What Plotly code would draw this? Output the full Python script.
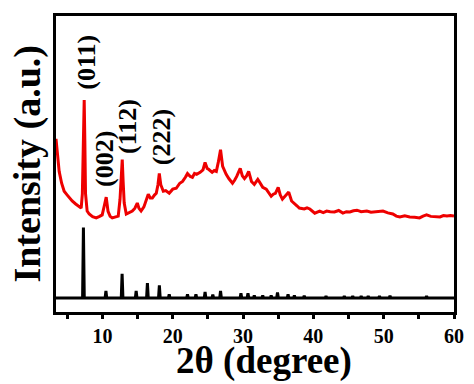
import plotly.graph_objects as go

# Experimental XRD pattern (red), 2theta in degrees, intensity arbitrary units
exp_2theta = [3.4, 3.6, 3.85, 4.2, 4.56, 5.0, 5.4, 5.7, 6.2, 6.6, 6.98, 7.15, 7.3, 7.41, 7.5, 7.6,
              7.83, 8.12, 8.6, 9.12, 9.6, 9.97, 10.26, 10.54, 10.8, 11.1, 11.4, 11.9, 12.25, 12.5,
              12.7, 12.82, 12.95, 13.1, 13.39, 13.8, 14.25, 14.6, 14.96, 15.2, 15.5, 15.9, 16.2,
              16.52, 16.8, 17.1, 17.4, 17.66, 17.9, 18.09, 18.3, 18.66, 19.0, 19.5, 20.0, 20.5,
              21.0, 21.4, 21.8, 22.1, 22.5, 22.8, 23.1, 23.4, 23.9, 24.3, 24.6, 24.9, 25.1, 25.6,
              25.9, 26.2, 26.5, 26.8, 27.1, 27.4, 27.6, 28.0, 28.5, 28.8, 29.1, 29.6, 29.9, 30.2,
              30.5, 30.8, 31.2, 31.6, 32.1, 32.3, 32.8, 33.3, 33.7, 34.0, 34.3, 34.6, 35.0, 35.3,
              35.6, 36.0, 36.5, 36.9, 37.3, 37.7, 38.0, 38.7, 39.1, 39.5, 40.2, 40.9, 41.4, 41.9,
              42.4, 43.0, 43.6, 44.2, 44.7, 45.2, 45.7, 46.2, 46.8, 47.6, 48.2, 48.7, 49.3, 49.9,
              50.6, 51.3, 51.8, 52.3, 53.0, 53.7, 54.4, 55.1, 55.6, 56.1, 56.7, 57.3, 58.0, 58.5,
              59.0, 59.5, 60.0]
exp_intensity = [58.5, 53, 47.5, 43.5, 40.8, 39.5, 38.2, 37.5, 36.5, 35.8, 35.1, 40, 60, 71.6, 58, 40,
                 34.1, 33.1, 32.2, 31.8, 32.3, 32.8, 35.8, 38.8, 34, 32.3, 31.8, 32.2, 32.4, 38,
                 48, 51.5, 44, 36.8, 33.1, 33.5, 34.1, 35, 36.8, 35, 34.1, 35.5, 37.5,
                 39.8, 38.5, 38.5, 39.5, 40.1, 43, 46.8, 43, 40.8, 41, 40.1, 41.5, 41.8,
                 43.5, 44.1, 45.5, 46.8, 45.8, 45.5, 46.8, 46.5, 47.2, 48, 50.5, 48.5, 48.2, 47.2,
                 47.8, 47.5, 50.8, 54.8, 49.2, 47.5, 46.5, 45, 43.5, 44.5, 45.8, 48.5, 46, 45.1,
                 46, 47.5, 44.1, 43.1, 44.8, 44.1, 42.1, 41.5, 40.3, 39.1, 39.8, 40.1, 42.1, 39.5,
                 38.1, 39.1, 40.5, 37.5, 36.8, 35.8, 35.1, 34.8, 35.2, 34.8, 33.4, 34.1, 33.6, 34.1,
                 33.9, 33.8, 34.3, 33.4, 33.9, 33.8, 34.2, 34.4, 33.9, 34.1, 33.7, 33.8, 33.9, 34.1,
                 33.5, 33.1, 32.4, 32.1, 32.5, 32.1, 32.0, 31.8, 32.4, 32.8, 32.3, 32.1, 32.1, 32.6,
                 32.4, 32.6, 32.4]

# Simulated pattern (black sticks)
sim_baseline = 4.7
sim_2theta = [7.3, 10.5, 12.8, 14.8, 16.4, 18.1, 19.5, 22.1, 23.3, 24.6, 25.7, 26.8, 29.7, 30.7,
              31.6, 32.8, 34.0, 34.9, 36.4, 37.3, 38.7, 41.8, 44.4, 45.6, 46.8, 47.8, 49.4, 50.9, 56.1]
sim_height = [23.8, 2.4, 8.2, 2.4, 5.1, 4.3, 1.3, 1.3, 1.3, 2.1, 1.2, 2.4, 1.6, 1.6,
              0.9, 0.9, 0.9, 1.9, 1.3, 0.9, 0.8, 0.7, 0.7, 0.7, 0.7, 0.7, 0.7, 0.8, 0.7]

# Peak labels
peak_labels = ["(011)", "(002)", "(112)", "(222)"]
peak_label_x = [7.7, 10.26, 13.5, 18.4]
peak_label_y = [84.3, 51.8, 62.5, 59.2]

x_range = [3.4, 60]
tick_vals = [5, 10, 15, 20, 25, 30, 35, 40, 45, 50, 55, 60]
tick_text = ["", "10", "", "20", "", "30", "", "40", "", "50", "", "60"]

# build stick line
sx, sy = [x_range[0]], [sim_baseline]
hw = 0.12
for p, h in zip(sim_2theta, sim_height):
    sx += [p - hw, p, p + hw]
    sy += [sim_baseline, sim_baseline + h, sim_baseline]
sx.append(x_range[1])
sy.append(sim_baseline)

font_fam = "Liberation Serif"

fig = go.Figure()
fig.add_trace(go.Scatter(x=sx, y=sy, mode="lines", line=dict(color="black", width=3),
                         showlegend=False))
fig.add_trace(go.Scatter(x=exp_2theta, y=exp_intensity, mode="lines",
                         line=dict(color="#ee0000", width=3), showlegend=False))

for t, x, y in zip(peak_labels, peak_label_x, peak_label_y):
    fig.add_annotation(x=x, y=y, text=t, textangle=-90, showarrow=False,
                       font=dict(family=font_fam, size=26, color="black", weight="bold"),
                       xanchor="center", yanchor="middle")

fig.add_annotation(xref="paper", yref="paper", x=0.523, y=-0.166, text="2θ (degree)",
                   showarrow=False, xanchor="center", yanchor="middle",
                   font=dict(family=font_fam, size=37, color="black", weight="bold"))
fig.add_annotation(xref="paper", yref="paper", x=-0.074, y=0.50, text="Intensity (a.u.)",
                   textangle=-90, showarrow=False, xanchor="center", yanchor="middle",
                   font=dict(family=font_fam, size=38, color="black", weight="bold"))

# the page body adds an 8px offset, so the figure is sized to fill the remaining window
fig.update_layout(
    width=466, height=376,
    margin=dict(l=48, r=20, t=5, b=72),
    paper_bgcolor="white", plot_bgcolor="white",
    xaxis=dict(range=x_range, tickvals=tick_vals, ticktext=tick_text, ticks="outside",
               ticklen=4, tickwidth=3, tickcolor="black", showgrid=False, zeroline=False,
               showline=True, linewidth=3, linecolor="black", mirror=True,
               tickfont=dict(family=font_fam, size=20, color="black", weight="bold")),
    yaxis=dict(range=[0, 100], showticklabels=False, ticks="", showgrid=False, zeroline=False,
               showline=True, linewidth=3, linecolor="black", mirror=True),
)

fig.write_html("out.html")
